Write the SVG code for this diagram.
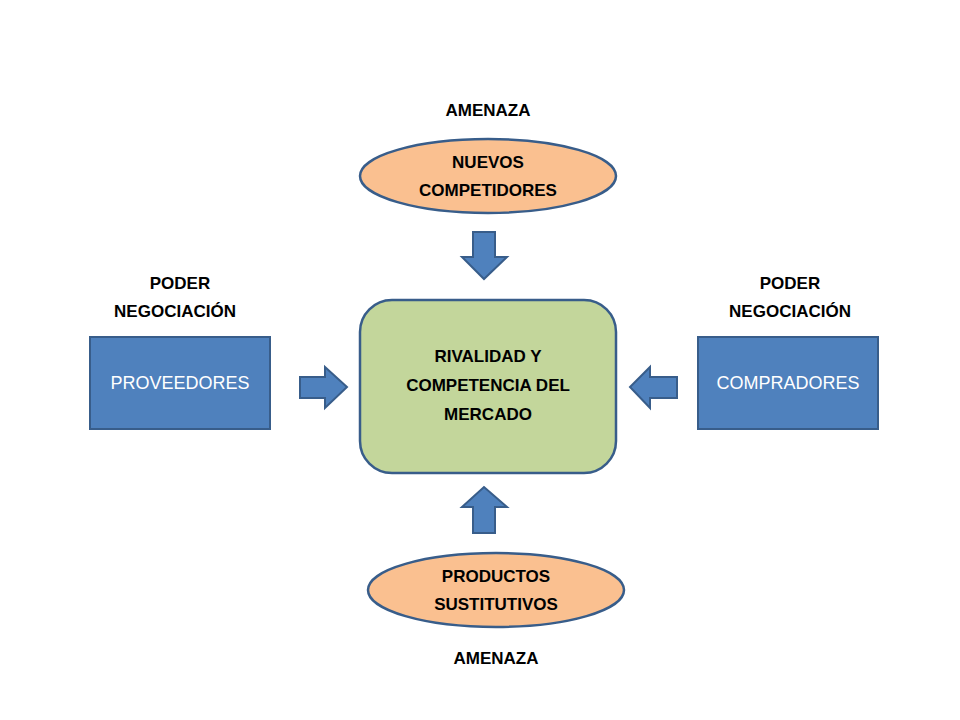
<svg xmlns="http://www.w3.org/2000/svg" width="960" height="720" viewBox="0 0 960 720">
<style>
.t{font-family:"Liberation Sans",Arial,sans-serif;font-size:17px;font-weight:bold;fill:#000;text-anchor:middle}
.w{font-family:"Liberation Sans",Arial,sans-serif;font-size:18px;fill:#fff;text-anchor:middle}
.ar{fill:#4f81bd;stroke:#385d8a;stroke-width:2}
.el{fill:#fac090;stroke:#385d8a;stroke-width:2.5}
.bx{fill:#4f81bd;stroke:#385d8a;stroke-width:2}
</style>
<rect width="960" height="720" fill="#fff"/>
<g id="center"><rect x="360" y="300" width="256" height="173" rx="32" fill="#c3d69b" stroke="#385d8a" stroke-width="2.5"/>
<text class="t" x="488" y="362">RIVALIDAD Y</text><text class="t" x="488" y="391">COMPETENCIA DEL</text><text class="t" x="488" y="420">MERCADO</text></g>
<g id="nuevos"><text class="t" x="488" y="116">AMENAZA</text><ellipse class="el" cx="488" cy="176" rx="128" ry="37"/>
<text class="t" x="488" y="168">NUEVOS</text><text class="t" x="488" y="196">COMPETIDORES</text></g>
<g id="sustitutos"><ellipse class="el" cx="496" cy="590" rx="128" ry="37"/>
<text class="t" x="496" y="582">PRODUCTOS</text><text class="t" x="496" y="610">SUSTITUTIVOS</text><text class="t" x="496" y="664">AMENAZA</text></g>
<g id="proveedores"><text class="t" x="180" y="289">PODER</text><text class="t" x="175" y="317">NEGOCIACIÓN</text>
<rect class="bx" x="90" y="337" width="180" height="92"/><text class="w" x="180" y="389">PROVEEDORES</text></g>
<g id="compradores"><text class="t" x="790" y="289">PODER</text><text class="t" x="790" y="317">NEGOCIACIÓN</text>
<rect class="bx" x="698" y="337" width="180" height="92"/><text class="w" x="788" y="389">COMPRADORES</text></g>
<g id="connectors">
<polygon class="ar" points="473,232 495,232 495,257 507,257 484,279 462,257 473,257"/>
<polygon class="ar" points="473,533 495,533 495,507 507,507 484,487 462,507 473,507"/>
<polygon class="ar" points="300,377 325,377 325,367 347,387 325,408 325,398 300,398"/>
<polygon class="ar" points="677,377 650,377 650,367 630,387 650,408 650,398 677,398"/>
</g>
</svg>
